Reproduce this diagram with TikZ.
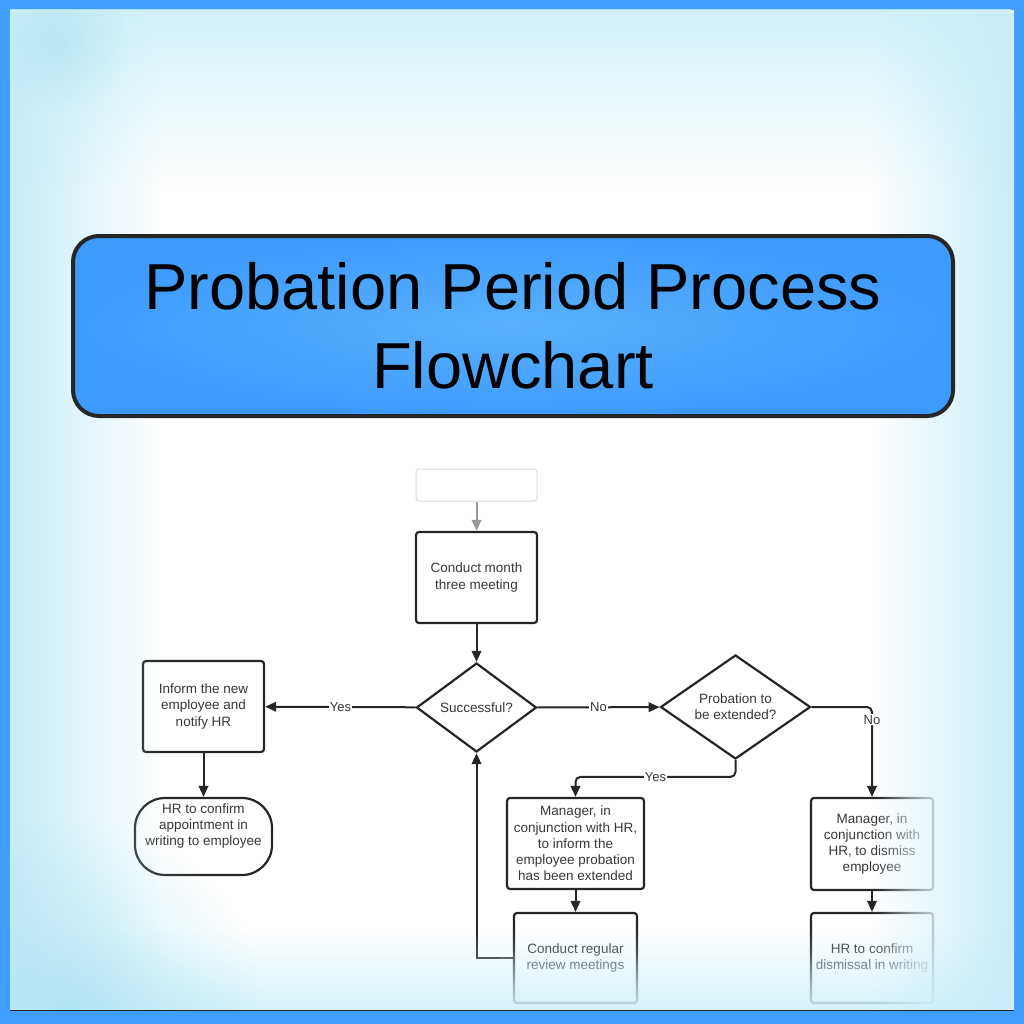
\documentclass[tikz,border=0pt]{standalone}
\usepackage{fontspec}
\setmainfont{Liberation Sans}
\usetikzlibrary{shapes.geometric,arrows.meta,calc,fadings}
\definecolor{framec}{HTML}{3F9EFF}
\definecolor{edgeL}{HTML}{BDE9F6}
\definecolor{edgeT}{HTML}{C8EEF8}
\definecolor{edgeB}{HTML}{C6EDF8}
\definecolor{cornerB}{HTML}{A8E3F2}
\definecolor{blobc}{HTML}{A5E3EE}
\definecolor{titleA}{HTML}{5BB1FF}
\definecolor{titleB}{HTML}{3D9BFB}
\definecolor{ink}{HTML}{262626}
\definecolor{txt}{HTML}{383838}
\tikzfading[name=opLeft, left color=transparent!0, middle color=transparent!65, right color=transparent!100]
\tikzfading[name=opRight, left color=transparent!100, middle color=transparent!65, right color=transparent!0]
\tikzfading[name=opTop, top color=transparent!0, middle color=transparent!65, bottom color=transparent!100]
\tikzfading[name=opBottom, top color=transparent!100, middle color=transparent!65, bottom color=transparent!0]
\tikzfading[name=toRight, left color=transparent!100, right color=transparent!0]
\tikzfading[name=toBottom, top color=transparent!100, bottom color=transparent!0]
\tikzfading[name=softdot, inner color=transparent!0, outer color=transparent!100]
\begin{document}
\begin{tikzpicture}[x=1pt,y=-1pt,
  fctext/.style={font=\fontsize{13.5}{16.3}\selectfont, text=txt, align=center},
  procbox/.style={rectangle, rounded corners=3pt, draw=ink, line width=2.2pt, fill=white,
    minimum width=121pt, minimum height=91pt, inner sep=2pt, fctext},
  decision/.style={diamond, draw=ink, line width=2.2pt, fill=white, inner sep=0pt, fctext},
  terminal/.style={rectangle, rounded corners=30pt, draw=ink, line width=2.2pt, fill=white,
    minimum width=137pt, minimum height=77pt, inner sep=0pt},
  flow/.style={draw=ink, line width=2pt, -{Triangle[length=11pt,width=9.5pt]}},
  lbl/.style={fill=white, inner sep=1pt, font=\fontsize{13}{15}\selectfont, text=txt},
  titlebox/.style={rectangle, rounded corners=26pt, draw=ink, line width=4pt,
    inner color=titleA, outer color=titleB, minimum width=880pt, minimum height=180pt,
    align=center, font=\fontsize{65}{79}\selectfont, text=black}
]
\useasboundingbox (0,0) rectangle (1024,1024);
\fill[framec] (0,0) rectangle (1024,1024);
\fill[white] (10,10) rectangle (1014,1010);

% flowchart
\node[procbox, draw=black!14, minimum height=32pt, line width=1pt] (prev) at (476.5,485) {};
\node[procbox] (month) at (476.5,577.5) {Conduct month\\three meeting};
\node[decision, minimum width=120pt, minimum height=89pt, aspect=1.35] (succ) at (476.5,707.5) {Successful?};
\node[procbox] (inform) at (203.5,706.5) {Inform the new\\employee and\\notify HR};
\node[terminal] (hrconf) at (203.5,836.5) {};
\node[fctext] (hrconftext) at (203.5,826) {HR to confirm\\appointment in\\writing to employee};
\node[decision, minimum width=150pt, minimum height=104pt, aspect=1.45] (prob) at (735.5,707) {Probation to\\be extended?};
\node[procbox, minimum width=137pt] (mgr) at (575.5,843.5) {Manager, in\\conjunction with HR,\\to inform the\\employee probation\\has been extended};
\node[procbox, minimum width=123pt, minimum height=90pt] (review) at (575.5,958) {Conduct regular\\review meetings};
\node[procbox, minimum width=122pt, minimum height=92pt] (dismiss) at (872,844) {Manager, in\\conjunction with\\HR, to dismiss\\employee};
\node[procbox, minimum width=122pt, minimum height=90pt] (hrdis) at (872,958) {HR to confirm\\dismissal in writing};

\coordinate (yesbend) at ($(mgr.north)+(0,-20)$);
\coordinate (nobend) at (dismiss.north |- prob.east);

\draw[draw=black!40, line width=2pt, -{Triangle[length=11pt,width=9.5pt]}] (prev) -- (month);
\draw[flow] (month) -- (succ);
\draw[flow] (succ) -- node[lbl]{Yes} (inform);
\draw[flow] (inform) -- (hrconf);
\draw[flow] (succ) -- node[lbl]{No} (prob);
\draw[flow, rounded corners=5pt] (prob.south) -- (prob.south |- yesbend) -- node[lbl]{Yes} (yesbend) -- (mgr.north);
\draw[flow] (review.west) -| (succ.south);
\draw[flow] (mgr) -- (review);
\draw[flow, rounded corners=5pt] (prob.east) -- (nobend) -- node[lbl, pos=0.14]{No} (dismiss.north);
\draw[flow] (dismiss) -- (hrdis);

\begin{scope}
\clip (10,10) rectangle (1014,1010);
% content fading to white
\fill[white, opacity=0.75, path fading=toBottom] (500,950) rectangle (950,1020);
\fill[white, opacity=0.9, path fading=toRight] (880,785) rectangle (950,1010);
% vignette along the edges
\fill[edgeL, path fading=opLeft] (-15,10) rectangle (160,1010);
\fill[edgeL, path fading=opRight] (872,10) rectangle (1045,1010);
\fill[edgeT, path fading=opTop] (10,-30) rectangle (1014,185);
\fill[edgeB, path fading=opBottom] (10,930) rectangle (1014,1040);
\fill[cornerB, opacity=0.7, path fading=softdot] (70,1010) circle (190);
\fill[blobc, opacity=0.5, path fading=softdot] (58,42) circle (70);
\end{scope}
\draw[ink, line width=1pt] (10,1010) -- (1014,1010);

% title
\node[titlebox] (title) at (513,326) {Probation Period Process\\Flowchart};
\end{tikzpicture}
\end{document}
